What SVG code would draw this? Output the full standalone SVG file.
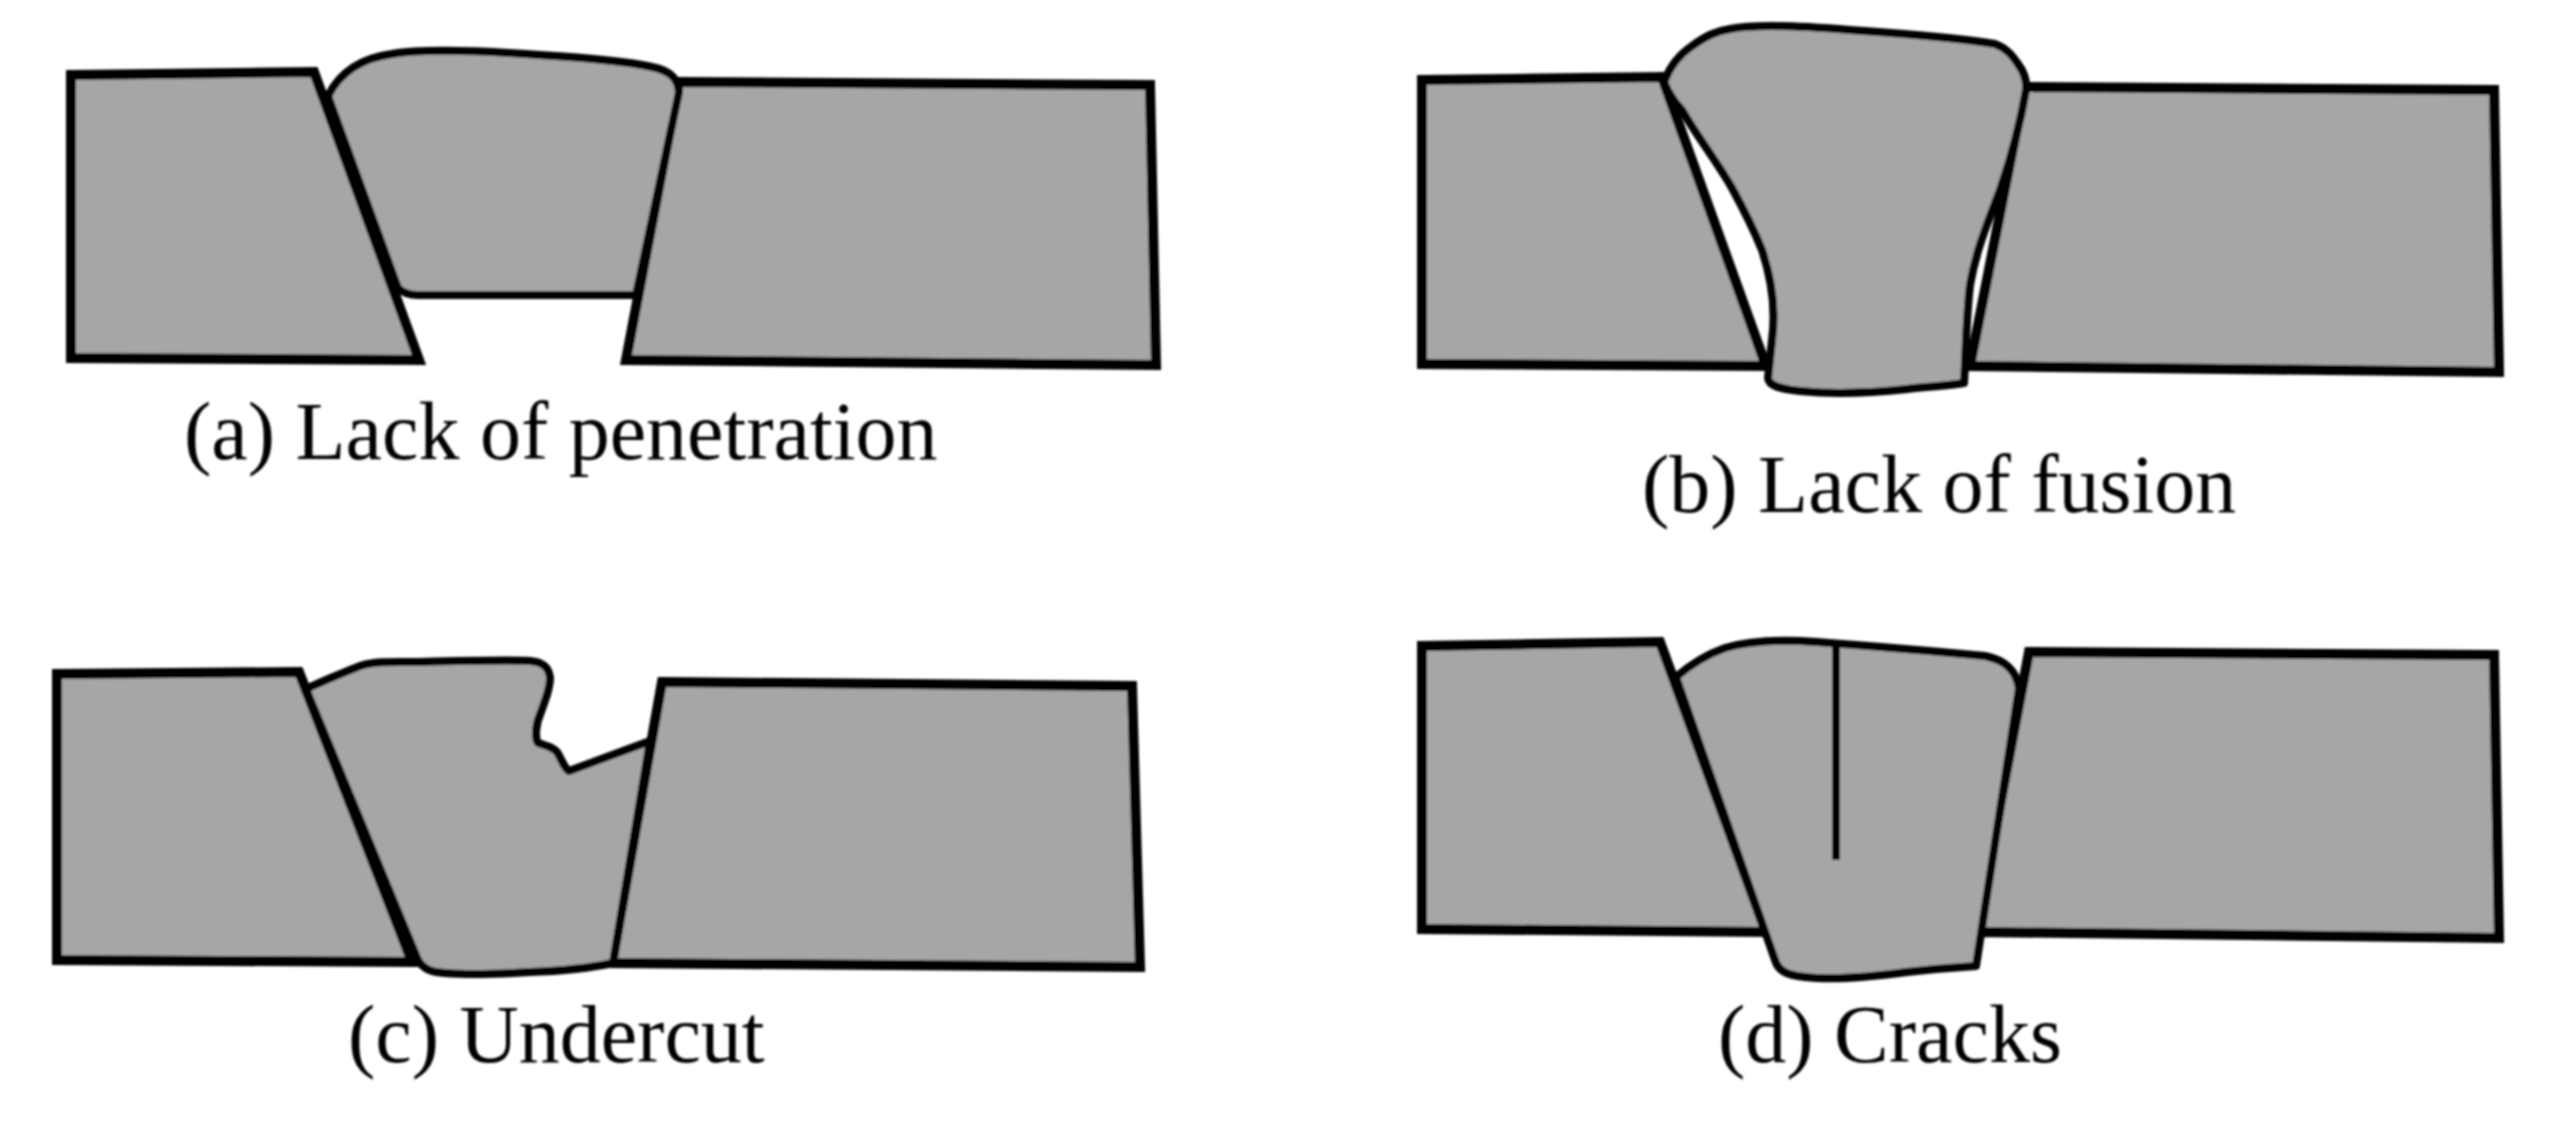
<svg xmlns="http://www.w3.org/2000/svg" width="2558" height="1132" viewBox="0 0 2558 1132">
<defs><filter id="soft" x="-2%" y="-2%" width="104%" height="104%"><feGaussianBlur stdDeviation="1"/></filter></defs>
<style>
.m{fill:#a6a6a6;stroke:#000;stroke-width:10;stroke-linejoin:miter}
.w{fill:#a6a6a6;stroke:#000;stroke-width:8;stroke-linejoin:round}
.c{fill:none;stroke:#000;stroke-width:8}
text{font-family:"Liberation Serif","Times New Roman",serif;font-size:82px;fill:#000}
</style>
<rect width="2558" height="1132" fill="#fff"/>
<g filter="url(#soft)">
<g id="panel-a">
<path class="m" d="M71 75L314 72L419 360L71 358Z"/>
<path class="m" d="M679 82L1150 85L1156 365L626 360Z"/>
<path class="w" d="M328 96C340 72 362 58 392 54C420 49 470 50 540 55C590 58 630 62 652 67C672 71 678 80 679 92L636 295L418 295C408 295 402 292 398 288Z"/>
<text x="184" y="459">(a) Lack of penetration</text>
</g>
<g id="panel-b">
<path class="m" d="M1422 80L1662 77L1766 366L1422 364Z"/>
<path class="m" d="M2025 87L2494 90L2499 372L1970 366Z"/>
<path class="w" d="M1664 82C1670 66 1680 54 1692 46C1706 36 1716 31 1730 29C1750 25 1790 25 1850 30C1910 34 1960 38 1995 44C2006 48 2012 55 2018 64C2024 72 2027 80 2026 90C2020 125 2012 155 2000 190C1988 222 1976 250 1970 285C1966 320 1966 350 1964 383C1945 386 1925 387 1907 389C1870 393 1830 394 1800 391C1780 389 1769 386 1768 378L1772 340C1776 310 1772 280 1762 250C1752 225 1744 210 1732 188C1716 160 1696 135 1682 110C1672 100 1668 92 1664 82Z"/>
<text x="1642" y="512">(b) Lack of fusion</text>
</g>
<g id="panel-c">
<path class="m" d="M57 674L299 672L412 962L57 960Z"/>
<path class="m" d="M662 682L1132 686L1140 967L612 963Z"/>
<path class="w" d="M306 689C325 680 345 672 360 666C375 661 395 662 420 662C460 661 510 660 530 661C544 662 549 668 550 678C550 690 545 700 541 712C535 725 535 738 538 743C548 746 554 748 557 752C561 758 564 768 569 771L650 741L613 963C590 968 560 971 530 972C500 974 470 975 445 973C432 972 424 970 418 960Z"/>
<text x="348" y="1062">(c) Undercut</text>
</g>
<g id="panel-d">
<path class="m" d="M1422 646L1660 642L1766 932L1422 929Z"/>
<path class="m" d="M2029 652L2494 655L2499 938L1976 932Z"/>
<path class="w" d="M1676 677C1690 665 1705 655 1725 648C1745 642 1770 640 1800 641C1850 644 1920 650 1985 656C2005 660 2016 670 2019 688L1976 966C1945 968 1925 970 1907 972C1870 977 1830 980 1805 977C1785 975 1778 970 1775 960Z"/>
<line class="c" x1="1836" y1="647" x2="1836" y2="860"/>
<text x="1718" y="1062">(d) Cracks</text>
</g>
</g>
</svg>
